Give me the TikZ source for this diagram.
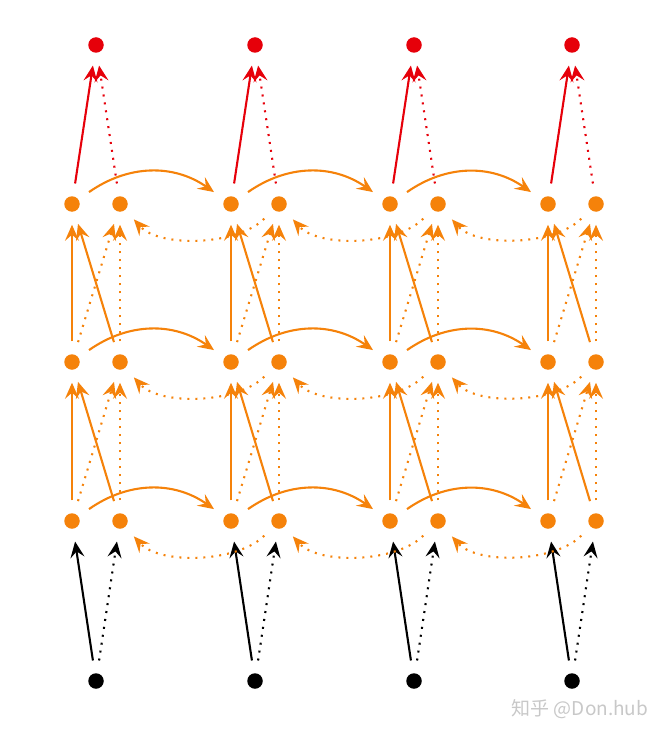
\documentclass[tikz,border=0pt]{standalone}
\usepackage{fontspec}
\newfontfamily\cjkfont{Noto Sans CJK SC}
\usetikzlibrary{arrows.meta}
\definecolor{rnnorange}{RGB}{245,130,10}
\definecolor{rnnred}{RGB}{230,0,10}
\definecolor{wmgray}{RGB}{200,200,200}
\tikzset{
  dot/.style={circle,fill=#1,inner sep=0pt,minimum size=15.5pt,outer sep=13pt},
  tipx/.style={-{Stealth[length=16pt,width=14pt,inset=6pt]}},
  solidarrow/.style={tipx,draw=#1,line width=2.1pt},
  dotarrow/.style={tipx,draw=#1,line width=2.1pt,dash pattern=on 2pt off 6pt},
}
\begin{document}
\begin{tikzpicture}[x=1pt,y=-1pt]
\useasboundingbox (0,0) rectangle (670,738);
% nodes
\foreach \t/\fx in {1/72,2/231,3/390,4/548}{
  \pgfmathsetmacro{\bx}{\fx+48}
  \pgfmathsetmacro{\mx}{\fx+24}
  \node[dot=black] (in\t) at (\mx,681) {};
  \node[dot=rnnred] (out\t) at (\mx,45) {};
  \foreach \l/\y in {1/521,2/362,3/204}{
    \node[dot=rnnorange] (f\l\t) at (\fx,\y) {};
    \node[dot=rnnorange] (b\l\t) at (\bx,\y) {};
  }
}
% connections
\foreach \t in {1,2,3,4}{
  \draw[solidarrow=black] (in\t) -- (f1\t);
  \draw[dotarrow=black] (in\t) -- (b1\t);
  \draw[solidarrow=rnnred] (f3\t) -- (out\t);
  \draw[dotarrow=rnnred] (b3\t) -- (out\t);
  \foreach \l/\m in {1/2,2/3}{
    \draw[solidarrow=rnnorange] (f\l\t) -- (f\m\t);
    \draw[solidarrow=rnnorange] (b\l\t) -- (f\m\t);
    \draw[dotarrow=rnnorange] (f\l\t) -- (b\m\t);
    \draw[dotarrow=rnnorange] (b\l\t) -- (b\m\t);
  }
}
\foreach \t/\u in {1/2,2/3,3/4}{
  \foreach \l in {1,2,3}{
    \draw[solidarrow=rnnorange] (f\l\t) to[bend left=35] (f\l\u);
    \draw[dotarrow=rnnorange] (b\l\u) to[out=225,in=-48,looseness=0.75] (b\l\t);
  }
}
\node[text=wmgray,font=\cjkfont\fontsize{19pt}{22pt}\selectfont,anchor=center] (wm) at (580,709) {知乎 @Don.hub};
\end{tikzpicture}
\end{document}
